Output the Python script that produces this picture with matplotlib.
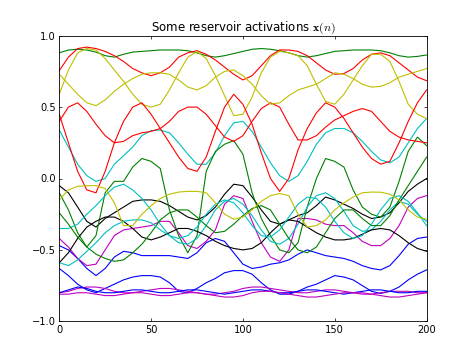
import numpy as np
import matplotlib
matplotlib.use("Agg")
import matplotlib.pyplot as plt

plt.rcParams['mathtext.fontset'] = 'cm'
plt.rcParams['font.family'] = ['DejaVu Sans']

steps = list(range(0, 201, 5))

blue_a = [-0.47, -0.50, -0.56, -0.63, -0.68, -0.63, -0.55, -0.51, -0.52, -0.54, -0.54, -0.54, -0.54, -0.55, -0.56, -0.52, -0.45, -0.42, -0.44, -0.52, -0.60, -0.63, -0.62, -0.60, -0.59, -0.57, -0.53, -0.50, -0.52, -0.54, -0.55, -0.56, -0.58, -0.61, -0.63, -0.64, -0.61, -0.54, -0.46, -0.42, -0.41]
blue_b = [-0.63, -0.68, -0.74, -0.78, -0.80, -0.77, -0.74, -0.71, -0.69, -0.68, -0.68, -0.69, -0.73, -0.79, -0.80, -0.77, -0.73, -0.70, -0.66, -0.645, -0.645, -0.67, -0.73, -0.78, -0.81, -0.81, -0.79, -0.76, -0.74, -0.71, -0.68, -0.69, -0.71, -0.75, -0.79, -0.805, -0.79, -0.76, -0.71, -0.67, -0.64]
blue_c = [-0.80, -0.78, -0.76, -0.77, -0.79, -0.80, -0.80, -0.79, -0.78, -0.78, -0.79, -0.80, -0.80, -0.79, -0.78, -0.78, -0.79, -0.80, -0.81, -0.80, -0.79, -0.78, -0.78, -0.79, -0.80, -0.80, -0.79, -0.78, -0.78, -0.79, -0.80, -0.81, -0.80, -0.79, -0.78, -0.78, -0.79, -0.80, -0.80, -0.79, -0.79]

green_a = [0.88, 0.90, 0.905, 0.90, 0.885, 0.86, 0.85, 0.87, 0.885, 0.89, 0.895, 0.90, 0.90, 0.90, 0.895, 0.88, 0.86, 0.85, 0.86, 0.875, 0.89, 0.905, 0.91, 0.905, 0.895, 0.88, 0.86, 0.85, 0.86, 0.875, 0.89, 0.895, 0.90, 0.90, 0.90, 0.895, 0.88, 0.86, 0.85, 0.855, 0.865]
green_b = [-0.10, -0.22, -0.38, -0.48, -0.40, -0.10, -0.02, -0.02, 0.08, 0.14, 0.12, 0.07, -0.22, -0.40, -0.52, -0.40, 0.05, 0.19, 0.24, 0.265, 0.17, -0.10, -0.28, -0.40, -0.50, -0.52, -0.45, -0.20, 0.00, 0.14, 0.12, 0.08, -0.08, -0.20, -0.25, -0.27, -0.20, -0.02, 0.19, 0.29, 0.23]
green_c = [-0.24, -0.32, -0.41, -0.48, -0.53, -0.56, -0.58, -0.57, -0.52, -0.46, -0.38, -0.29, -0.24, -0.22, -0.22, -0.27, -0.33, -0.38, -0.37, -0.32, -0.26, -0.21, -0.19, -0.22, -0.32, -0.42, -0.50, -0.52, -0.48, -0.38, -0.28, -0.22, -0.22, -0.28, -0.33, -0.33, -0.26, -0.15, -0.05, 0.05, 0.15]

red_a = [0.755, 0.85, 0.91, 0.92, 0.91, 0.89, 0.86, 0.82, 0.77, 0.74, 0.72, 0.74, 0.78, 0.85, 0.88, 0.895, 0.87, 0.83, 0.78, 0.73, 0.69, 0.72, 0.79, 0.86, 0.90, 0.90, 0.89, 0.86, 0.81, 0.76, 0.73, 0.735, 0.77, 0.83, 0.87, 0.88, 0.86, 0.81, 0.76, 0.71, 0.685]
red_b = [0.40, 0.50, 0.53, 0.47, 0.38, 0.30, 0.25, 0.26, 0.30, 0.32, 0.33, 0.35, 0.40, 0.47, 0.50, 0.50, 0.45, 0.37, 0.29, 0.26, 0.30, 0.40, 0.49, 0.53, 0.50, 0.38, 0.27, 0.27, 0.30, 0.36, 0.41, 0.44, 0.47, 0.49, 0.47, 0.40, 0.33, 0.29, 0.27, 0.26, 0.25]
red_c = [0.45, 0.25, 0.05, -0.08, -0.10, 0.05, 0.25, 0.40, 0.50, 0.53, 0.45, 0.35, 0.25, 0.15, 0.07, 0.05, 0.15, 0.33, 0.50, 0.59, 0.52, 0.38, 0.18, 0.00, -0.09, 0.00, 0.20, 0.35, 0.46, 0.53, 0.50, 0.42, 0.32, 0.22, 0.14, 0.10, 0.12, 0.25, 0.40, 0.53, 0.62]

cyan_a = [0.34, 0.22, 0.10, 0.02, -0.02, 0.00, 0.10, 0.16, 0.22, 0.30, 0.335, 0.34, 0.32, 0.25, 0.17, 0.10, 0.10, 0.18, 0.30, 0.39, 0.40, 0.33, 0.22, 0.11, 0.02, -0.02, 0.02, 0.12, 0.24, 0.32, 0.35, 0.35, 0.32, 0.26, 0.19, 0.13, 0.11, 0.15, 0.25, 0.35, 0.42]
cyan_b = [-0.35, -0.35, -0.32, -0.25, -0.19, -0.12, -0.06, -0.04, -0.08, -0.14, -0.22, -0.32, -0.40, -0.45, -0.46, -0.42, -0.33, -0.22, -0.16, -0.14, -0.18, -0.26, -0.36, -0.44, -0.46, -0.42, -0.32, -0.20, -0.12, -0.10, -0.14, -0.23, -0.33, -0.37, -0.36, -0.30, -0.22, -0.16, -0.18, -0.25, -0.30]
cyan_c = [-0.59, -0.61, -0.57, -0.51, -0.45, -0.38, -0.33, -0.30, -0.29, -0.29, -0.31, -0.36, -0.40, -0.42, -0.40, -0.34, -0.25, -0.18, -0.15, -0.17, -0.24, -0.33, -0.40, -0.41, -0.36, -0.27, -0.18, -0.13, -0.14, -0.20, -0.30, -0.38, -0.42, -0.40, -0.32, -0.22, -0.14, -0.12, -0.16, -0.24, -0.33]

magenta_a = [-0.42, -0.48, -0.56, -0.61, -0.60, -0.50, -0.40, -0.36, -0.35, -0.34, -0.33, -0.30, -0.30, -0.38, -0.47, -0.49, -0.44, -0.36, -0.18, -0.12, -0.14, -0.30, -0.45, -0.55, -0.58, -0.50, -0.28, -0.28, -0.29, -0.32, -0.33, -0.33, -0.38, -0.44, -0.47, -0.47, -0.42, -0.33, -0.20, -0.14, -0.12]
magenta_b = [-0.80, -0.79, -0.77, -0.76, -0.76, -0.77, -0.79, -0.80, -0.80, -0.79, -0.78, -0.77, -0.77, -0.78, -0.79, -0.80, -0.81, -0.81, -0.80, -0.79, -0.77, -0.76, -0.76, -0.77, -0.78, -0.79, -0.80, -0.80, -0.79, -0.78, -0.78, -0.79, -0.80, -0.81, -0.81, -0.80, -0.79, -0.79, -0.79, -0.80, -0.80]
magenta_c = [-0.81, -0.81, -0.80, -0.80, -0.81, -0.82, -0.82, -0.81, -0.80, -0.80, -0.81, -0.82, -0.82, -0.81, -0.80, -0.80, -0.81, -0.82, -0.83, -0.83, -0.82, -0.80, -0.79, -0.79, -0.80, -0.81, -0.82, -0.83, -0.83, -0.82, -0.81, -0.80, -0.80, -0.80, -0.81, -0.82, -0.83, -0.83, -0.82, -0.81, -0.80]

yellow_a = [0.59, 0.76, 0.88, 0.91, 0.90, 0.84, 0.76, 0.68, 0.59, 0.52, 0.50, 0.52, 0.62, 0.74, 0.85, 0.89, 0.84, 0.72, 0.58, 0.44, 0.45, 0.57, 0.74, 0.85, 0.89, 0.88, 0.86, 0.79, 0.66, 0.54, 0.52, 0.59, 0.69, 0.79, 0.87, 0.87, 0.82, 0.68, 0.52, 0.45, 0.42]
yellow_b = [0.73, 0.66, 0.59, 0.53, 0.51, 0.55, 0.61, 0.66, 0.70, 0.73, 0.74, 0.74, 0.73, 0.69, 0.64, 0.62, 0.65, 0.71, 0.75, 0.76, 0.72, 0.66, 0.58, 0.52, 0.53, 0.58, 0.62, 0.64, 0.66, 0.70, 0.74, 0.73, 0.70, 0.66, 0.64, 0.645, 0.67, 0.71, 0.73, 0.75, 0.77]
yellow_c = [-0.15, -0.08, -0.055, -0.05, -0.05, -0.07, -0.17, -0.33, -0.33, -0.25, -0.19, -0.14, -0.11, -0.095, -0.09, -0.09, -0.10, -0.17, -0.25, -0.285, -0.27, -0.22, -0.16, -0.12, -0.105, -0.12, -0.25, -0.34, -0.33, -0.29, -0.22, -0.17, -0.13, -0.10, -0.095, -0.096, -0.11, -0.15, -0.22, -0.27, -0.285]

black_a = [-0.05, -0.10, -0.20, -0.30, -0.34, -0.28, -0.24, -0.20, -0.16, -0.15, -0.15, -0.16, -0.19, -0.23, -0.27, -0.29, -0.26, -0.20, -0.11, -0.04, -0.05, -0.13, -0.22, -0.30, -0.32, -0.29, -0.26, -0.24, -0.19, -0.13, -0.15, -0.18, -0.21, -0.25, -0.28, -0.27, -0.24, -0.17, -0.09, -0.04, 0.00]
black_b = [-0.59, -0.52, -0.42, -0.34, -0.30, -0.27, -0.27, -0.30, -0.35, -0.41, -0.43, -0.41, -0.38, -0.35, -0.35, -0.37, -0.40, -0.44, -0.47, -0.49, -0.50, -0.49, -0.45, -0.38, -0.32, -0.29, -0.30, -0.34, -0.38, -0.41, -0.43, -0.43, -0.42, -0.39, -0.36, -0.35, -0.36, -0.40, -0.45, -0.49, -0.51]

series = [blue_a, green_a, red_a, cyan_a, magenta_a, yellow_a, black_a,
          blue_b, green_b, red_b, cyan_b, magenta_b, yellow_b, black_b,
          blue_c, green_c, red_c, cyan_c, magenta_c, yellow_c]
colors = ['b', 'g', 'r', 'c', 'm', 'y', 'k']
color_map = {'b': (0, 0, 1), 'g': (0, 0.5, 0), 'r': (1, 0, 0), 'c': (0, 0.75, 0.75),
             'm': (0.75, 0, 0.75), 'y': (0.75, 0.75, 0), 'k': (0, 0, 0)}

fig = plt.figure(figsize=(4.74, 3.57), dpi=100)
ax = fig.add_axes([0.125, 0.1, 0.775, 0.8])
for i, s in enumerate(series):
    ax.plot(steps, s, color=color_map[colors[i % 7]], lw=0.8)

ax.set_xlim(0, 200)
ax.set_ylim(-1, 1)
ax.set_xticks([0, 50, 100, 150, 200])
ax.set_yticks([-1.0, -0.5, 0.0, 0.5, 1.0])
ax.set_yticklabels(['\u22121.0', '\u22120.5', '0.0', '0.5', '1.0'])
ax.tick_params(direction='in', length=2.5, width=0.5, labelsize=7.1, top=True, right=True, pad=2.5)
for sp in ax.spines.values():
    sp.set_linewidth(0.6)
ax.set_title(r'Some reservoir activations $\mathbf{x}(n)$', fontsize=8.5, pad=3.5)

fig.savefig('out.png', dpi=100)
